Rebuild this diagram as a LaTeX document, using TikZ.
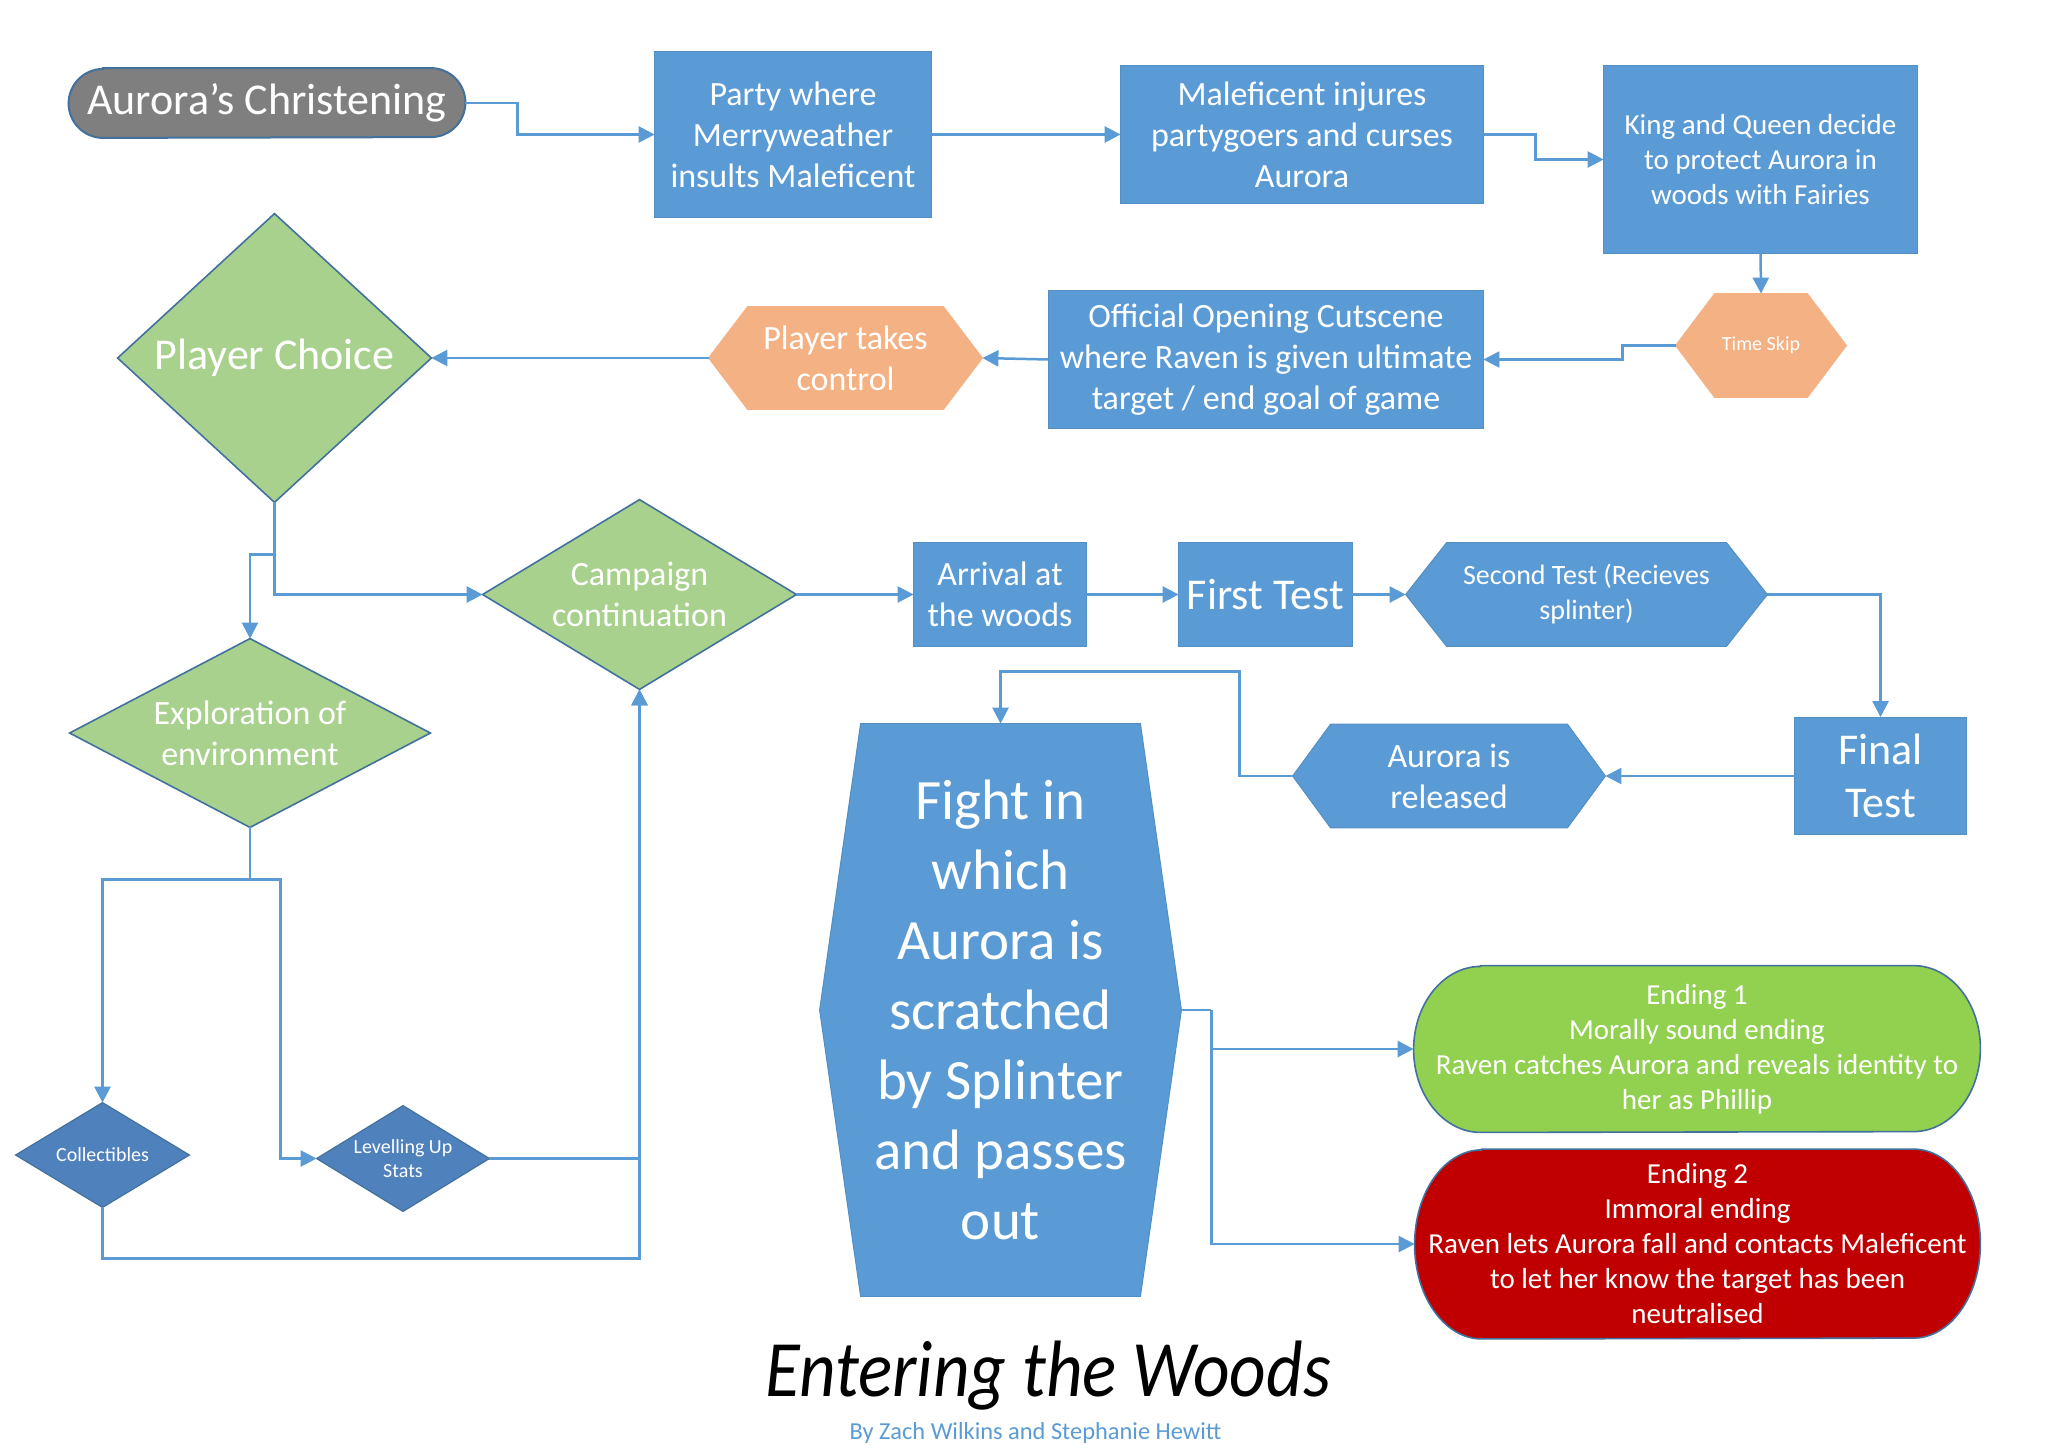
\documentclass[tikz,border=0pt]{standalone}
\usepackage{fontspec}
\setmainfont{Carlito}
\usetikzlibrary{arrows.meta,backgrounds,calc}
\definecolor{cline}{HTML}{5B9BD5}
\definecolor{boxblue}{HTML}{5B9BD5}
\definecolor{dkblue}{HTML}{41719C}
\definecolor{peach}{HTML}{F4B183}
\definecolor{lgreen}{HTML}{A9D18E}
\definecolor{bgreen}{HTML}{92D050}
\definecolor{dred}{HTML}{C00000}
\definecolor{grayfill}{HTML}{7F7F7F}
\definecolor{midblue}{HTML}{4F81BD}
\newcommand\mkhex[3]{\filldraw[#3] (#1.west) -- ([xshift=#2]#1.north west) -- ([xshift=-#2]#1.north east) -- (#1.east) -- ([xshift=-#2]#1.south east) -- ([xshift=#2]#1.south west) -- cycle;}
\newcommand\mkdia[2]{\filldraw[#2] (#1.west) -- (#1.north) -- (#1.east) -- (#1.south) -- cycle;}
\newcommand\mkstad[4]{\filldraw[#4] ([xshift=#2]#1.north west) -- ([xshift=-#2]#1.north east) arc[start angle=90,end angle=-90,x radius=#2,y radius=#3] -- ([xshift=#2]#1.south west) arc[start angle=270,end angle=90,x radius=#2,y radius=#3] -- cycle;}
\tikzset{
  conn/.style={draw=cline, line width=1.25pt, -{Triangle[length=8pt,width=8pt]}},
  plainconn/.style={draw=cline, line width=1.25pt},
  holder/.style={rectangle, inner sep=0pt, align=center, text=white},
  fbig/.style={font=\fontsize{22pt}{26.5pt}\selectfont},
  fmid/.style={font=\fontsize{17pt}{20.5pt}\selectfont},
  fsmall/.style={font=\fontsize{14.5pt}{17.5pt}\selectfont},
  ftiny/.style={font=\fontsize{10pt}{12pt}\selectfont},
  ffight/.style={font=\fontsize{28.5pt}{35pt}\selectfont},
  boxfill/.style={fill=boxblue, draw=boxblue!92!black, line width=0.5pt},
  greenfill/.style={fill=lgreen, draw=dkblue, line width=0.8pt},
  peachfill/.style={fill=peach, draw=peach, line width=0.5pt},
}
\begin{document}
\begin{tikzpicture}[x=0.5pt,y=-0.5pt]
\useasboundingbox (0,0) rectangle (2048,1447);
% nodes
\node[holder,fbig,minimum width=198pt,minimum height=34.5pt] (aur) at (267,103) {Aurora’s Christening};
\node[holder,fmid,minimum width=138pt,minimum height=82.5pt] (party) at (793,134.5) {Party where\\Merryweather\\insults Maleficent};
\node[holder,fmid,minimum width=181pt,minimum height=68.5pt] (malef) at (1302,134.5) {Maleficent injures\\partygoers and curses\\Aurora};
\node[holder,fsmall,minimum width=156.5pt,minimum height=93.5pt] (king) at (1760.5,159.5) {King and Queen decide\\to protect Aurora in\\woods with Fairies};
\node[holder,ftiny,minimum width=85pt,minimum height=51.5pt] (time) at (1761,345.5) {Time Skip};
\node[holder,fmid,minimum width=217pt,minimum height=68.5pt] (official) at (1266,359.5) {Official Opening Cutscene\\where Raven is given ultimate\\target / end goal of game};
\node[holder,fmid,minimum width=136.5pt,minimum height=51pt] (ptc) at (845.5,358) {Player takes\\control};
\node[holder,fbig,minimum width=156.5pt,minimum height=144pt] (pchoice) at (274.5,358) {Player Choice};
\node[holder,fmid,minimum width=156.5pt,minimum height=94.5pt] (camp) at (639.5,594.5) {Campaign\\continuation};
\node[holder,fmid,minimum width=180pt,minimum height=94pt] (expl) at (250,733) {Exploration of\\environment};
\node[holder,fmid,minimum width=86pt,minimum height=51.5pt] (arrival) at (1000,594.5) {Arrival at\\the woods};
\node[holder,fbig,minimum width=86.5pt,minimum height=51.5pt] (first) at (1265.5,594.5) {First Test};
\node[holder,font=\fontsize{14pt}{17.5pt}\selectfont,minimum width=180.5pt,minimum height=51.5pt] (second) at (1586.5,594.5) {Second Test (Recieves\\splinter)};
\node[holder,minimum width=85.5pt,minimum height=58.5pt,font=\fontsize{22pt}{26.5pt}\selectfont] (final) at (1880.5,776) {Final\\Test};
\node[holder,fmid,minimum width=156pt,minimum height=51.5pt] (released) at (1449,776) {Aurora is\\released};
\node[holder,ffight,minimum width=180.5pt,minimum height=286pt] (fight) at (1000.5,1010) {Fight in\\which\\Aurora is\\scratched\\by Splinter\\and passes\\out};
\node[holder,fsmall,minimum width=283pt,minimum height=83pt] (end1) at (1697,1049) {Ending 1\\Morally sound ending\\Raven catches Aurora and reveals identity to\\her as Phillip};
\node[holder,fsmall,minimum width=282.5pt,minimum height=94.5pt] (end2) at (1697.5,1244) {Ending 2\\Immoral ending\\Raven lets Aurora fall and contacts Maleficent\\to let her know the target has been\\neutralised};
\node[holder,ftiny,minimum width=86.5pt,minimum height=52pt] (coll) at (102.5,1155) {Collectibles};
\node[holder,ftiny,minimum width=86pt,minimum height=52.5pt] (lev) at (403,1158.5) {Levelling Up\\Stats};
\node[anchor=base,inner sep=0pt,font=\fontsize{40pt}{48pt}\selectfont\itshape] (title) at (1048,1396) {\scalebox{0.89}[1]{Entering the Woods}};
\node[anchor=base,inner sep=0pt,text=cline,font=\fontsize{12.2pt}{14pt}\selectfont] (sub) at (1035.5,1439) {By Zach Wilkins and Stephanie Hewitt};
% shapes
\begin{pgfonlayer}{background}
\fill[white] (0,0) rectangle (2048,1447);
\mkstad{aur}{17.25pt}{17.25pt}{fill=grayfill,draw=dkblue,line width=1pt}
\filldraw[boxfill] (party.south west) rectangle (party.north east);
\filldraw[boxfill] (malef.south west) rectangle (malef.north east);
\filldraw[boxfill] (king.south west) rectangle (king.north east);
\mkhex{time}{19.5pt}{peachfill}
\filldraw[boxfill] (official.south west) rectangle (official.north east);
\mkhex{ptc}{19.5pt}{peachfill}
\mkdia{pchoice}{greenfill}
\mkdia{camp}{greenfill}
\mkdia{expl}{greenfill}
\filldraw[boxfill] (arrival.south west) rectangle (arrival.north east);
\filldraw[boxfill] (first.south west) rectangle (first.north east);
\mkhex{second}{20.5pt}{boxfill}
\filldraw[boxfill] (final.south west) rectangle (final.north east);
\mkhex{released}{19pt}{boxfill}
\mkhex{fight}{20.5pt}{boxfill}
\mkstad{end1}{33.5pt}{41.5pt}{fill=bgreen,draw=dkblue,line width=0.8pt}
\mkstad{end2}{33.5pt}{47.25pt}{fill=dred,draw=dkblue,line width=0.8pt}
\mkdia{coll}{fill=midblue,draw=dkblue,line width=0.6pt}
\mkdia{lev}{fill=midblue,draw=dkblue,line width=0.6pt}
\end{pgfonlayer}
% connectors
\draw[conn] (aur.east) -- ++(26pt,0) |- (party.west);
\draw[conn] (party.east) -- (malef.west);
\draw[conn] (malef.east) -- ++(26pt,0) |- (king.west);
\draw[conn] (king.south) -- (time.north);
\draw[conn] (time.west) -- ++(-26.5pt,0) |- (official.east);
\draw[conn] (official.west) -- (ptc.east);
\draw[conn] (ptc.west) -- (pchoice.east);
\draw[conn] (pchoice.south) |- (camp.west);
\draw[conn] (pchoice.south) -- ++(0,-26pt) -| (expl.north);
\draw[conn] (camp.east) -- (arrival.west);
\draw[conn] (arrival.east) -- (first.west);
\draw[conn] (first.east) -- (second.west);
\draw[conn] (second.east) -| (final.north);
\draw[conn] (final.west) -- (released.east);
\draw[conn] (released.west) -- ++(-26.5pt,0) |- ([yshift=26pt]fight.north) -- (fight.north);
\draw[plainconn] (fight.east) -- ++(15pt,0) coordinate (fsplit);
\draw[conn] (fsplit) |- (end1.west);
\draw[conn] (fsplit) |- (end2.west);
\draw[plainconn] (expl.south) -- ++(0,-26pt) coordinate (esplit);
\draw[conn] (esplit) -| (coll.north);
\draw[conn] (esplit) -| ([xshift=-18pt]lev.west) -- (lev.west);
\draw[conn] (lev.east) -| (camp.south);
\draw[conn] (coll.south) -- ++(0,-25.5pt) -| (camp.south);
\end{tikzpicture}
\end{document}
